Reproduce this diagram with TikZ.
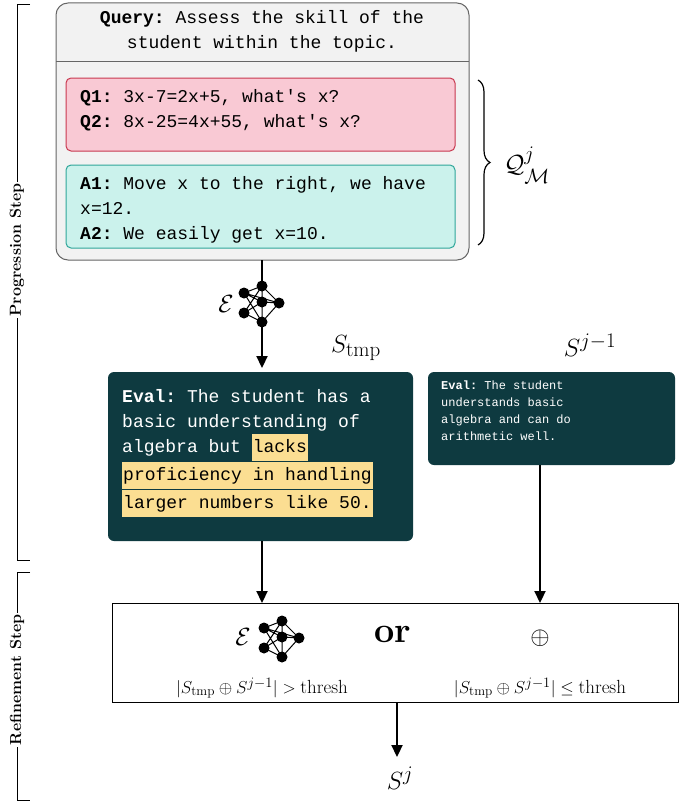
\documentclass[tikz,border=0pt]{standalone}
\usepackage{fontspec}
\usepackage{amsmath,amssymb}
\setmonofont{Liberation Mono}
\usetikzlibrary{arrows.meta,decorations.pathreplacing}
\definecolor{qgray}{HTML}{F2F2F2}
\definecolor{qred}{HTML}{F9C9D4}
\definecolor{qredb}{HTML}{C8384F}
\definecolor{qteal}{HTML}{CBF2EC}
\definecolor{qtealb}{HTML}{2FA69A}
\definecolor{dark}{HTML}{0E3A40}
\definecolor{hl}{HTML}{FBDE92}
\newcommand{\hlt}[1]{{\setlength{\fboxsep}{1pt}\colorbox{hl}{\color{black}\strut #1}}}
\tikzset{
  mono/.style={font=\ttfamily\fontsize{18}{25}\selectfont, align=left, anchor=north west, inner sep=0pt},
  darkbox/.style={draw=none, fill=dark, rounded corners=6pt},
  arr/.style={-{Triangle[length=12pt,width=11pt]}, line width=2.2pt},
  nn/.style={circle, fill=black, inner sep=0pt, minimum size=11pt},
  big/.style={font=\fontsize{30}{34}\selectfont, inner sep=0pt},
  mid/.style={font=\fontsize{19}{22}\selectfont, inner sep=0pt},
  netpic/.pic={
    \coordinate (t) at (0,-16); \coordinate (l) at (-18,-9); \coordinate (c) at (0,0);
    \coordinate (r) at (17,1); \coordinate (b) at (-18,11); \coordinate (d) at (0,20);
    \draw[line width=1pt] (t)--(l) (t)--(c) (t)--(r) (l)--(c) (l)--(d) (c)--(d) (r)--(d) (b)--(d) (b)--(t) (c)--(r) (b)--(c) (l)--(r);
    \foreach \p in {t,l,c,r,b,d} \fill (\p) circle (5.5);
  }
}
\begin{document}
\begin{tikzpicture}[x=1pt,y=-1pt]
\useasboundingbox (0,0) rectangle (683,808);
% brackets
\draw[line width=1pt] (30,5)--(17,5)--(17,560)--(30,560);
\node[fill=white, rotate=90, font=\bfseries\fontsize{16}{18}\selectfont, inner sep=2pt] (ps) at (17,250) {Progression Step};
\draw[line width=1pt] (30,572)--(17,572)--(17,800)--(30,800);
\node[fill=white, rotate=90, font=\bfseries\fontsize{16}{18}\selectfont, inner sep=2pt] (rs) at (17,680) {Refinement Step};
% query box
\draw[draw=gray!80!black, fill=qgray, rounded corners=12pt, line width=1pt] (56,3) rectangle (469,260);
\draw[gray!80!black, line width=1pt] (56,62)--(469,62);
\node[mono, anchor=north, align=center] (qt) at (262,10) {\textbf{Query:} Assess the skill of the\\student within the topic.};
\draw[draw=qredb, fill=qred, rounded corners=5pt, line width=1pt] (66,78) rectangle (455,151);
\node[mono] (q) at (80,89) {\textbf{Q1:} 3x-7=2x+5, what's x?\\\textbf{Q2:} 8x-25=4x+55, what's x?};
\draw[draw=qtealb, fill=qteal, rounded corners=5pt, line width=1pt] (66,165) rectangle (455,248);
\node[mono] (a) at (80,176) {\textbf{A1:} Move x to the right, we have\\x=12.\\\textbf{A2:} We easily get x=10.};
\draw[decorate, decoration={brace, amplitude=12pt}, line width=1.2pt] (478,80)--(478,245);
\node[big] (qm) at (527,165) {$\mathcal{Q}_{\mathcal{M}}^{j}$};
% arrow 1
\coordinate (a1s) at (262,260);
\coordinate (a1e) at (262,368);
\draw[arr] (a1s)--(a1e);
\fill[white] (236,282) rectangle (290,326);
\pic at (262,302) {netpic};
\node[mid, font=\fontsize{24}{26}\selectfont] (e1) at (226,304) {$\mathcal{E}$};
\node[big] (st) at (356,348) {$S_{\text{tmp}}$};
\node[big] (sj1) at (590,345) {$S^{j-1}$};
% dark boxes
\draw[darkbox] (108,372) rectangle (413,541);
\node[mono, text=white] (ev) at (122,389) {\textbf{Eval:} The student has a\\basic understanding of\\algebra but \hlt{lacks}\\\hlt{proficiency in handling}\\\hlt{larger numbers like 50.}};
\draw[darkbox] (428,372) rectangle (675,465);
\node[mono, text=white, font=\ttfamily\fontsize{12}{17}\selectfont] (ev2) at (441,381) {\textbf{Eval:} The student\\understands basic\\algebra and can do\\arithmetic well.};
% arrows to bottom
\coordinate (b1s) at (262,541); \coordinate (b1e) at (262,603);
\coordinate (b2s) at (540,465); \coordinate (b2e) at (540,603);
\draw[arr] (b1s)--(b1e);
\draw[arr] (b2s)--(b2e);
% bottom box
\draw[line width=1pt] (112,603) rectangle (678,702);
\pic at (282,637) {netpic};
\node[mid, font=\fontsize{26}{28}\selectfont] (e2) at (243,637) {$\mathcal{E}$};
\node[font=\bfseries\fontsize{36}{38}\selectfont, inner sep=0pt] (or) at (393,634) {or};
\node[font=\fontsize{36}{38}\selectfont, inner sep=0pt] (op) at (540,638) {$\oplus$};
\node[mid] (f1) at (262,688) {$|S_{\text{tmp}}\oplus S^{j-1}|>\text{thresh}$};
\node[mid] (f2) at (540,688) {$|S_{\text{tmp}}\oplus S^{j-1}|\le\text{thresh}$};
\coordinate (c1s) at (397,702); \coordinate (c1e) at (397,757);
\draw[arr] (c1s)--(c1e);
\node[big] (sj) at (400,778) {$S^{j}$};
\end{tikzpicture}
\end{document}
